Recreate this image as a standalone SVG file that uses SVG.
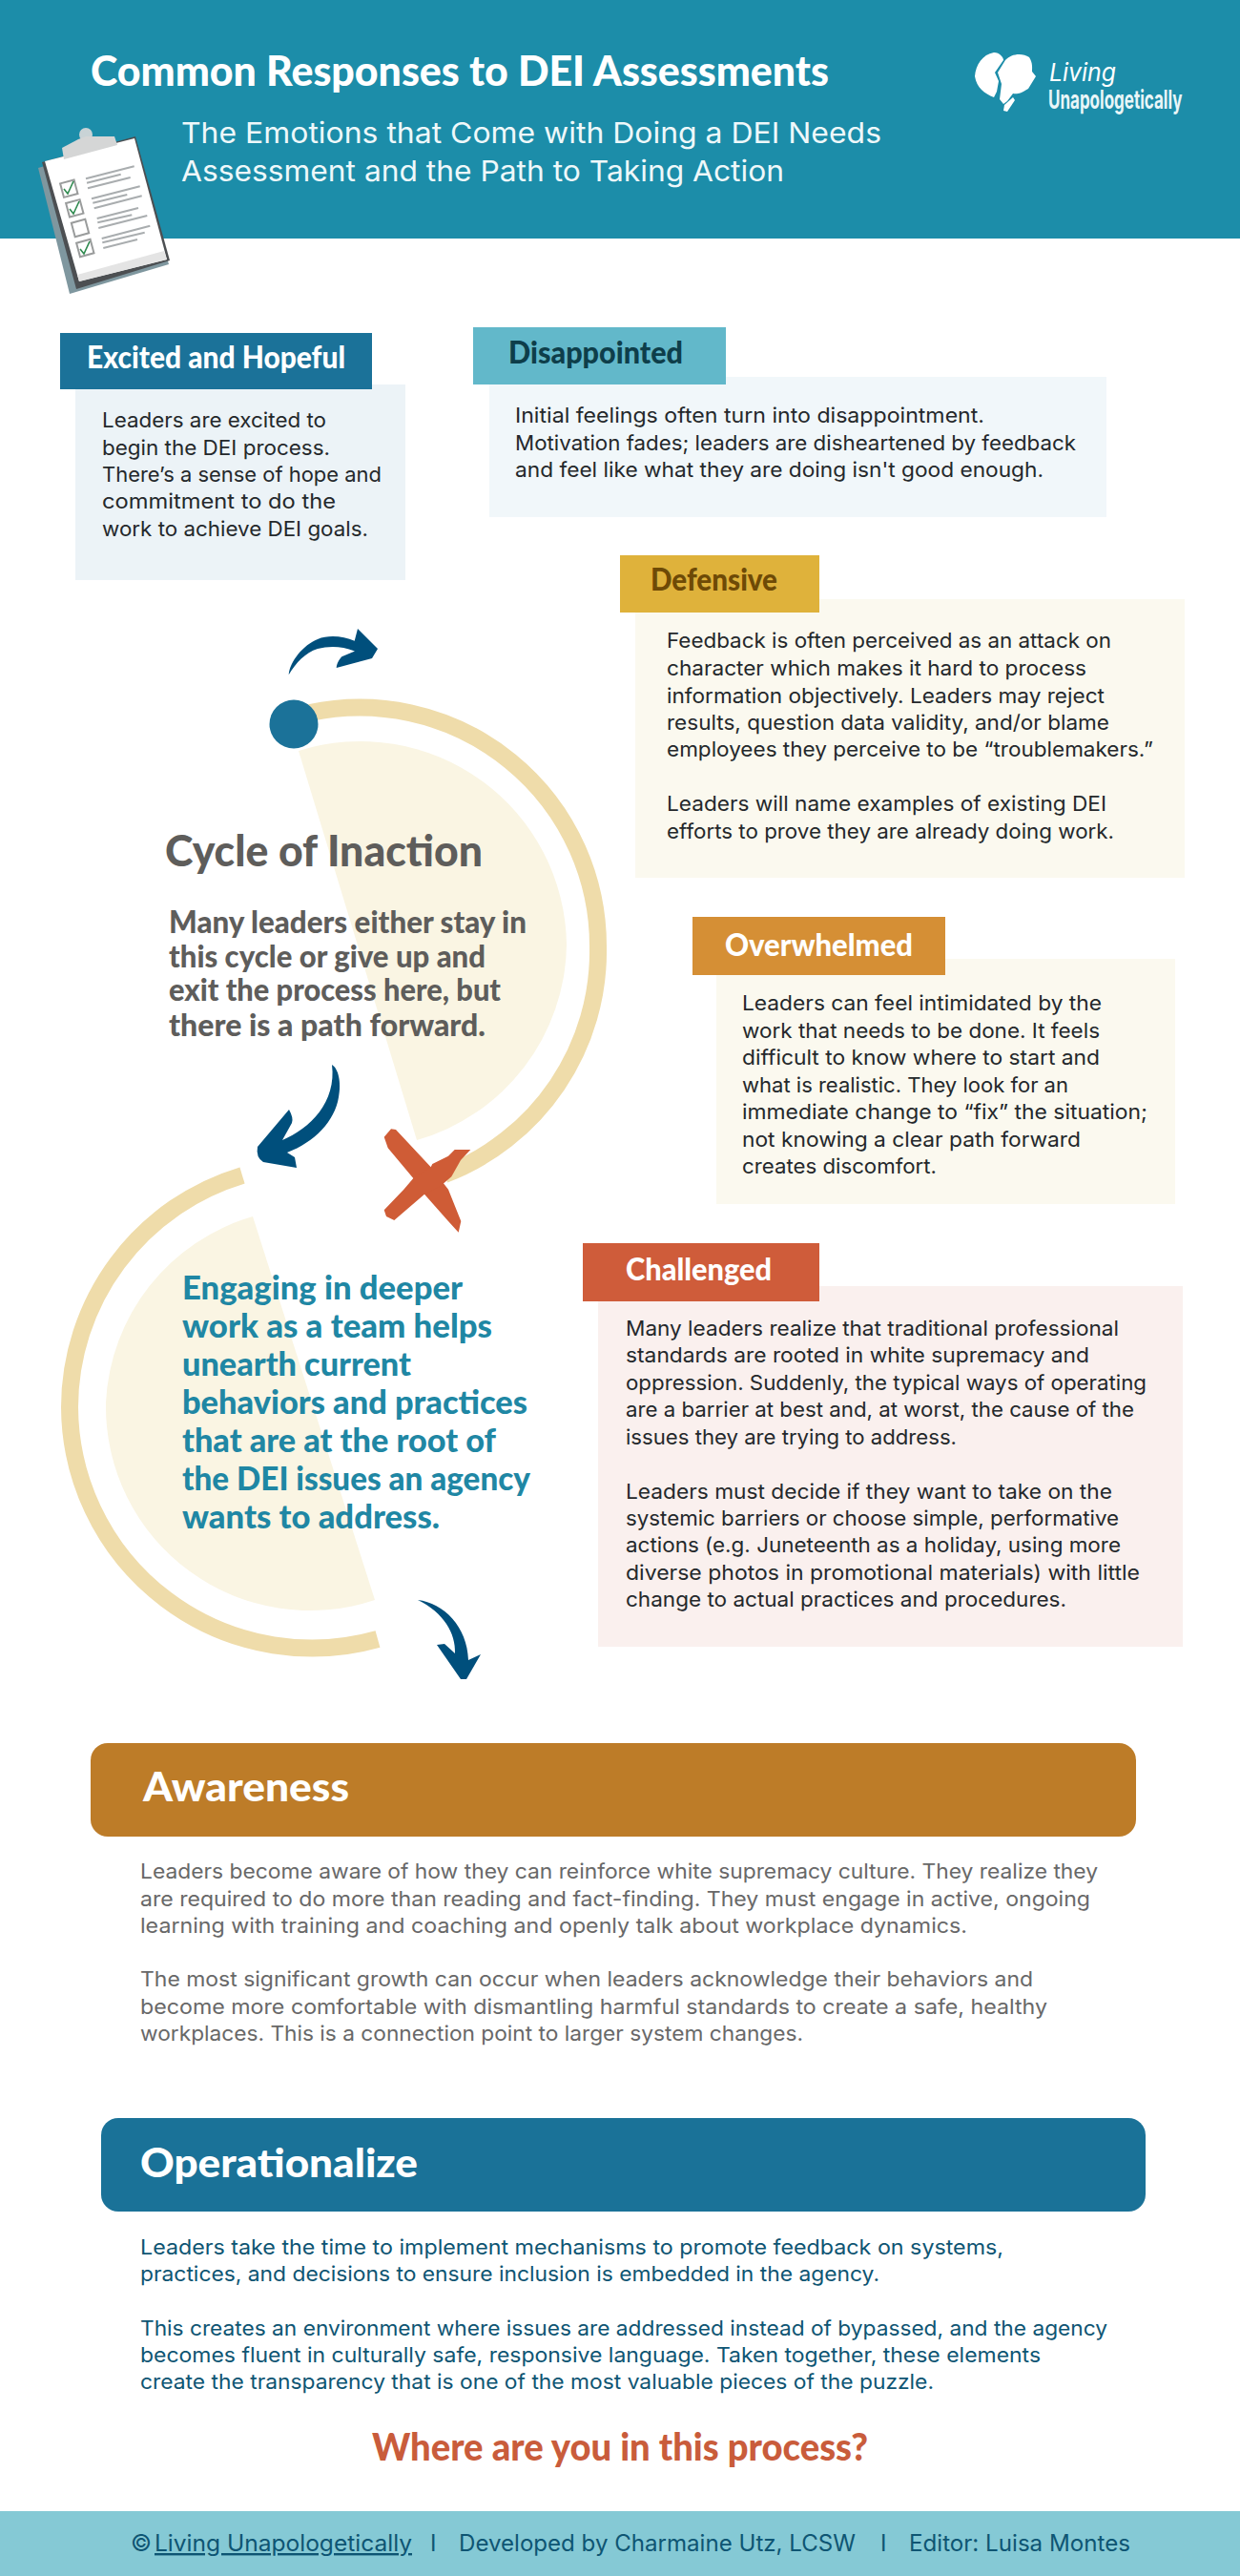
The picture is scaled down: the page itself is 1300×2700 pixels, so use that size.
<svg xmlns="http://www.w3.org/2000/svg" width="1300" height="2700" viewBox="0 0 1300 2700">
<style>
text{font-family:"Inter","Noto Sans","Liberation Sans",sans-serif;white-space:pre}
.h{font-family:"Lato","Noto Sans","Liberation Sans",sans-serif;font-weight:900}
.b{font-size:21.5px;fill:#24282b}
.aw{font-size:21.5px;fill:#686868}
.op{font-size:21.5px;fill:#0e5573}
.ft{font-size:24px;fill:#0e5573}
.sub{font-size:30px;fill:#eef8fa}
.w{fill:#fff}
.lab{font-size:33px}
.cyc{font-size:32px;fill:#5e5d5b}
.eng{font-size:34px;fill:#1f87a4}
.arc{fill:none;stroke:#efdcaa;stroke-width:18}
.seg{fill:#faf5e3}
.arrow{fill:#004f7c}
.x{fill:#cf5c36}
.cl{stroke:#a9adaf;stroke-width:2;fill:none}
.cb{fill:#fff;stroke:#9a9c9c;stroke-width:2}
.ck{fill:none;stroke:#2f8a4f;stroke-width:1.6}
</style>
<rect width="1300" height="2700" fill="#fff"/>
<g id="header">
<rect width="1300" height="250" fill="#1c8da9"/>
<text class="h w" x="95" y="90" font-size="43" textLength="774" lengthAdjust="spacingAndGlyphs">Common Responses to DEI Assessments</text>
<text class="sub" x="190" y="150" textLength="734" lengthAdjust="spacingAndGlyphs">The Emotions that Come with Doing a DEI Needs</text>
<text class="sub" x="190" y="190" textLength="632" lengthAdjust="spacingAndGlyphs">Assessment and the Path to Taking Action</text>
</g>
<g id="logo">
<path class="w" d="M1022 80C1023 68 1030 57 1042 55C1048 55 1052 60 1052 63L1043 76L1047 85L1045 96L1042 102C1032 98 1024 92 1022 80Z"/>
<path class="w" d="M1054 63C1060 56 1072 55 1079 60C1083 66 1082 72 1082 75L1086 80L1078 93C1070 98 1066 99 1062 98L1056 106L1052 109L1048 104L1050 88L1046 76Z"/>
<path class="w" d="M1053 110L1062 102L1064 105L1056 117L1052 116Z"/>
<text x="1100" y="85" font-size="26" font-style="italic" fill="#fff" font-family="Lato, sans-serif" textLength="70" lengthAdjust="spacingAndGlyphs">Living</text>
<text transform="translate(1099 114) scale(0.63 1)" x="0" y="0" font-size="27" font-weight="700" fill="#e9f6f8" font-family="Roboto, sans-serif">Unapologetically</text>
</g>
<g id="clipboard">
<polygon points="40,176 138,148 177,277 73,308" fill="#7f979f"/>
<polygon points="44,170 142,143 178,273 80,303" fill="#4c4f52"/>
<polygon points="47,169 141,145 175,272 83,295" fill="#fff"/>
<polygon points="81,288 172,263 175,272 83,295" fill="#e4e4e4"/>
<circle cx="90" cy="141" r="7" fill="#c9d3d6"/>
<polygon points="65,155 82,146 90,143 120,143 123,152 67,167" fill="#d5d6d6"/>
<g class="cl">
<path d="M90 187.300L140.700 174.300M91 191.700L126.700 182.700M92 197.300L136.700 186"/>
<path d="M96 208.300L146.700 195.300M97.300 212.700L133.300 204M98.700 218.300L148.700 205.300"/>
<path d="M101.700 229L145 218M102.300 233.300L138.300 225.300M103.300 239L154.300 226"/>
<path d="M106.700 250L157.300 236.700M107.300 254.300L151.700 243.700M108.300 260L144 251"/>
</g>
<rect class="cb" x="-7.500" y="-7.500" width="15" height="15" transform="translate(72.300 197.700) rotate(-15)"/>
<rect class="cb" x="-7.500" y="-7.500" width="15" height="15" transform="translate(78.300 218.300) rotate(-15)"/>
<rect class="cb" x="-7.500" y="-7.500" width="15" height="15" transform="translate(84 239) rotate(-15)"/>
<rect class="cb" x="-7.500" y="-7.500" width="15" height="15" transform="translate(89.300 260) rotate(-15)"/>
<path class="ck" d="M67 198L71 203L77 190M73 219L77 224L83 211M84 261L88 266L94 253"/>
</g>
<g id="excited-and-hopeful">
<rect x="79" y="403" width="346" height="205" fill="#ecf3f7"/>
<rect x="63" y="349" width="327" height="59" fill="#1b7299"/>
<text class="h lab w" x="91" y="386" textLength="271" lengthAdjust="spacingAndGlyphs">Excited and Hopeful</text>
<text class="b" x="107" y="448" textLength="235" lengthAdjust="spacingAndGlyphs">Leaders are excited to</text>
<text class="b" x="107" y="477" textLength="239" lengthAdjust="spacingAndGlyphs">begin the DEI process.</text>
<text class="b" x="107" y="505" textLength="293" lengthAdjust="spacingAndGlyphs">There’s a sense of hope and</text>
<text class="b" x="107" y="533" textLength="245" lengthAdjust="spacingAndGlyphs">commitment to do the</text>
<text class="b" x="107" y="562" textLength="279" lengthAdjust="spacingAndGlyphs">work to achieve DEI goals.</text>
</g>
<g id="disappointed">
<rect x="513" y="395" width="647" height="147" fill="#f1f7fa"/>
<rect x="496" y="343" width="265" height="60" fill="#62b8ca"/>
<text class="h lab" x="533" y="381" fill="#0e3e4a" textLength="183" lengthAdjust="spacingAndGlyphs">Disappointed</text>
<text class="b" x="540" y="443" textLength="492" lengthAdjust="spacingAndGlyphs">Initial feelings often turn into disappointment.</text>
<text class="b" x="540" y="472" textLength="588" lengthAdjust="spacingAndGlyphs">Motivation fades; leaders are disheartened by feedback</text>
<text class="b" x="540" y="500" textLength="554" lengthAdjust="spacingAndGlyphs">and feel like what they are doing isn't good enough.</text>
</g>
<g id="defensive">
<rect x="666" y="628" width="576" height="292" fill="#fbf9ef"/>
<rect x="650" y="582" width="209" height="60" fill="#dfb23b"/>
<text class="h lab" x="682" y="619" fill="#6e4a06" textLength="133" lengthAdjust="spacingAndGlyphs">Defensive</text>
<text class="b" x="699" y="679" textLength="466" lengthAdjust="spacingAndGlyphs">Feedback is often perceived as an attack on</text>
<text class="b" x="699" y="707.500" textLength="440" lengthAdjust="spacingAndGlyphs">character which makes it hard to process</text>
<text class="b" x="699" y="736.500" textLength="459" lengthAdjust="spacingAndGlyphs">information objectively. Leaders may reject</text>
<text class="b" x="699" y="765" textLength="464" lengthAdjust="spacingAndGlyphs">results, question data validity, and/or blame</text>
<text class="b" x="699" y="793" textLength="510" lengthAdjust="spacingAndGlyphs">employees they perceive to be “troublemakers.”</text>
<text class="b" x="699" y="850" textLength="461" lengthAdjust="spacingAndGlyphs">Leaders will name examples of existing DEI</text>
<text class="b" x="699" y="879" textLength="469" lengthAdjust="spacingAndGlyphs">efforts to prove they are already doing work.</text>
</g>
<g id="overwhelmed">
<rect x="751" y="1005" width="481" height="257" fill="#fbf9ef"/>
<rect x="726" y="961" width="265" height="61" fill="#d58f35"/>
<text class="h lab w" x="760" y="1002" textLength="197" lengthAdjust="spacingAndGlyphs">Overwhelmed</text>
<text class="b" x="778" y="1059" textLength="377" lengthAdjust="spacingAndGlyphs">Leaders can feel intimidated by the</text>
<text class="b" x="778" y="1088" textLength="375" lengthAdjust="spacingAndGlyphs">work that needs to be done. It feels</text>
<text class="b" x="778" y="1116" textLength="375" lengthAdjust="spacingAndGlyphs">difficult to know where to start and</text>
<text class="b" x="778" y="1145" textLength="342" lengthAdjust="spacingAndGlyphs">what is realistic. They look for an</text>
<text class="b" x="778" y="1173" textLength="425" lengthAdjust="spacingAndGlyphs">immediate change to “fix” the situation;</text>
<text class="b" x="778" y="1202" textLength="355" lengthAdjust="spacingAndGlyphs">not knowing a clear path forward</text>
<text class="b" x="778" y="1230" textLength="204" lengthAdjust="spacingAndGlyphs">creates discomfort.</text>
</g>
<g id="challenged">
<rect x="627" y="1348" width="613" height="378" fill="#faf0ee"/>
<rect x="611" y="1303" width="248" height="61" fill="#cf5c3a"/>
<text class="h lab w" x="656" y="1342" textLength="153" lengthAdjust="spacingAndGlyphs">Challenged</text>
<text class="b" x="656" y="1400" textLength="517" lengthAdjust="spacingAndGlyphs">Many leaders realize that traditional professional</text>
<text class="b" x="656" y="1428" textLength="486" lengthAdjust="spacingAndGlyphs">standards are rooted in white supremacy and</text>
<text class="b" x="656" y="1457" textLength="546" lengthAdjust="spacingAndGlyphs">oppression. Suddenly, the typical ways of operating</text>
<text class="b" x="656" y="1485" textLength="533" lengthAdjust="spacingAndGlyphs">are a barrier at best and, at worst, the cause of the</text>
<text class="b" x="656" y="1514" textLength="347" lengthAdjust="spacingAndGlyphs">issues they are trying to address.</text>
<text class="b" x="656" y="1571" textLength="510" lengthAdjust="spacingAndGlyphs">Leaders must decide if they want to take on the</text>
<text class="b" x="656" y="1599" textLength="517" lengthAdjust="spacingAndGlyphs">systemic barriers or choose simple, performative</text>
<text class="b" x="656" y="1627" textLength="519" lengthAdjust="spacingAndGlyphs">actions (e.g. Juneteenth as a holiday, using more</text>
<text class="b" x="656" y="1656" textLength="539" lengthAdjust="spacingAndGlyphs">diverse photos in promotional materials) with little</text>
<text class="b" x="656" y="1684" textLength="462" lengthAdjust="spacingAndGlyphs">change to actual practices and procedures.</text>
</g>
<g id="cycle-of-inaction">
<path class="seg" d="M313 787A216 216 0 0 1 594 990A216 216 0 0 1 437 1195Z"/>
<path class="arc" d="M325 747A250 250 0 0 1 627 993A250 250 0 0 1 466 1231"/>
<circle cx="308" cy="759" r="25.500" fill="#1b7299"/>
<text class="h" x="173" y="908" font-size="46" fill="#5e5d5b" textLength="333" lengthAdjust="spacingAndGlyphs">Cycle of Inaction</text>
<text class="h cyc" x="177" y="978" textLength="375" lengthAdjust="spacingAndGlyphs">Many leaders either stay in</text>
<text class="h cyc" x="177" y="1014" textLength="332" lengthAdjust="spacingAndGlyphs">this cycle or give up and</text>
<text class="h cyc" x="177" y="1049" textLength="348" lengthAdjust="spacingAndGlyphs">exit the process here, but</text>
<text class="h cyc" x="177" y="1086" textLength="332" lengthAdjust="spacingAndGlyphs">there is a path forward.</text>
</g>
<g id="x-mark">
<path class="x" d="M402.700 1191.700L410 1183.300L415 1184L451.700 1223.300L470 1246.700L477.300 1265L483.300 1280L480.700 1291.700L470 1280L445 1251.700L433.300 1235L406.700 1203.300Z"/>
<path class="x" d="M493.300 1205L476.700 1205L470 1211.700L453.300 1220L451.700 1223.300L433.300 1235L423.300 1246.700L402.700 1268.300L405 1275L413.300 1279L445 1251.700L461.700 1243.300L473.300 1233.300L483 1216Z"/>
</g>
<g id="deeper-work">
<path class="seg" d="M265 1275A214 214 0 0 0 111 1470A214 214 0 0 0 393 1677Z"/>
<path class="arc" d="M254 1232A254 254 0 0 0 73 1475A254 254 0 0 0 396 1718"/>
<text class="h eng" x="191" y="1362" textLength="294" lengthAdjust="spacingAndGlyphs">Engaging in deeper</text>
<text class="h eng" x="191" y="1402" textLength="325" lengthAdjust="spacingAndGlyphs">work as a team helps</text>
<text class="h eng" x="191" y="1442" textLength="240" lengthAdjust="spacingAndGlyphs">unearth current</text>
<text class="h eng" x="191" y="1482" textLength="362" lengthAdjust="spacingAndGlyphs">behaviors and practices</text>
<text class="h eng" x="191" y="1522" textLength="329" lengthAdjust="spacingAndGlyphs">that are at the root of</text>
<text class="h eng" x="191" y="1562" textLength="365" lengthAdjust="spacingAndGlyphs">the DEI issues an agency</text>
<text class="h eng" x="191" y="1602" textLength="270" lengthAdjust="spacingAndGlyphs">wants to address.</text>
</g>
<g id="connectors">
<path class="arrow" d="M302.700 707.300C304 693 318 676 333 670C345 665 360 667 371.700 671.700L375 659L396 680L390 690L352.700 700C353 695 356 691 358.300 688.300L372 682.500C358 677 345 677 333 680C320 684 310 695 302.700 707.300Z"/>
<path class="arrow" d="M348 1116C355 1120 358 1135 355 1150C351 1175 330 1197 301 1208L309 1213L311 1224L276 1218Q268 1213 270 1202L303 1163Q308 1172 306 1177L296 1195C325 1183 353 1155 348 1116Z"/>
<path class="arrow" d="M438 1677C465 1680 490 1705 491 1740L504 1734L489 1760L483 1760L458 1724L466 1723L477 1733C478 1712 465 1690 438 1677Z"/>
</g>
<g id="awareness">
<rect x="95" y="1827" width="1096" height="98" rx="18" fill="#bd7c28"/>
<text class="h w" x="150" y="1888" font-size="42" textLength="216" lengthAdjust="spacingAndGlyphs">Awareness</text>
<text class="aw" x="147" y="1969" textLength="1004" lengthAdjust="spacingAndGlyphs">Leaders become aware of how they can reinforce white supremacy culture. They realize they</text>
<text class="aw" x="147" y="1997.500" textLength="996" lengthAdjust="spacingAndGlyphs">are required to do more than reading and fact-finding. They must engage in active, ongoing</text>
<text class="aw" x="147" y="2026" textLength="867" lengthAdjust="spacingAndGlyphs">learning with training and coaching and openly talk about workplace dynamics.</text>
<text class="aw" x="147" y="2082" textLength="936" lengthAdjust="spacingAndGlyphs">The most significant growth can occur when leaders acknowledge their behaviors and</text>
<text class="aw" x="147" y="2110.500" textLength="951" lengthAdjust="spacingAndGlyphs">become more comfortable with dismantling harmful standards to create a safe, healthy</text>
<text class="aw" x="147" y="2139" textLength="695" lengthAdjust="spacingAndGlyphs">workplaces. This is a connection point to larger system changes.</text>
</g>
<g id="operationalize">
<rect x="106" y="2220" width="1095" height="98" rx="18" fill="#1a7298"/>
<text class="h w" x="147" y="2282" font-size="42" textLength="291" lengthAdjust="spacingAndGlyphs">Operationalize</text>
<text class="op" x="147" y="2362.500" textLength="905" lengthAdjust="spacingAndGlyphs">Leaders take the time to implement mechanisms to promote feedback on systems,</text>
<text class="op" x="147" y="2391" textLength="775" lengthAdjust="spacingAndGlyphs">practices, and decisions to ensure inclusion is embedded in the agency.</text>
<text class="op" x="147" y="2447.500" textLength="1014" lengthAdjust="spacingAndGlyphs">This creates an environment where issues are addressed instead of bypassed, and the agency</text>
<text class="op" x="147" y="2476" textLength="944" lengthAdjust="spacingAndGlyphs">becomes fluent in culturally safe, responsive language. Taken together, these elements</text>
<text class="op" x="147" y="2504" textLength="832" lengthAdjust="spacingAndGlyphs">create the transparency that is one of the most valuable pieces of the puzzle.</text>
</g>
<text class="h" x="390" y="2579" font-size="39" fill="#c95c3b" textLength="520" lengthAdjust="spacingAndGlyphs">Where are you in this process?</text>
<g id="footer">
<rect y="2632" width="1300" height="68" fill="#85c9d5"/>
<text class="ft" x="137" y="2674" font-size="20">©</text>
<text class="ft" x="162" y="2674" text-decoration="underline" textLength="270" lengthAdjust="spacingAndGlyphs">Living Unapologetically</text>
<text class="ft" x="451" y="2674">I</text>
<text class="ft" x="481" y="2674" textLength="416" lengthAdjust="spacingAndGlyphs">Developed by Charmaine Utz, LCSW</text>
<text class="ft" x="923" y="2674">I</text>
<text class="ft" x="953" y="2674" textLength="232" lengthAdjust="spacingAndGlyphs">Editor: Luisa Montes</text>
</g>
</svg>
